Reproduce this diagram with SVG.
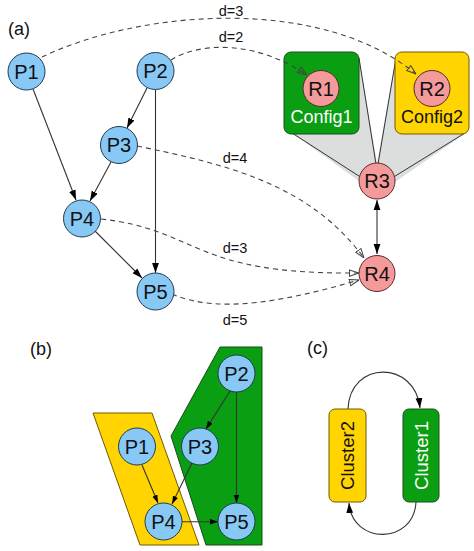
<svg xmlns="http://www.w3.org/2000/svg" width="474" height="551" viewBox="0 0 474 551">
<style>
text{font-family:"Liberation Sans",Arial,sans-serif;fill:#111}
.p{fill:#87c8f5;stroke:#1f3b52;stroke-width:1}
.r{fill:#f49a9a;stroke:#5a2a2a;stroke-width:1}
.nt{font-size:20px;text-anchor:middle}
.lbl{font-size:14.5px;text-anchor:middle}
.pan{font-size:18px}
.e{fill:none;stroke:#333;stroke-width:1.1}
.d{fill:none;stroke:#444;stroke-width:1.1;stroke-dasharray:5,4}
.green{fill:#0a9e12;stroke:#1c4d1c;stroke-width:1}
.yellow{fill:#ffd400;stroke:#6e5b00;stroke-width:1}
.fan{fill:#dcdedd;stroke:none}
.fl{stroke:#333;stroke-width:1}
</style>
<defs>
<marker id="ah" viewBox="0 0 10 10" refX="10" refY="5" markerWidth="10" markerHeight="10" markerUnits="userSpaceOnUse" orient="auto-start-reverse">
<path d="M0,1.6 L10,5 L0,8.4 z" fill="#000"/>
</marker>
<marker id="ahs" viewBox="0 0 10 10" refX="10" refY="5" markerWidth="8" markerHeight="8" markerUnits="userSpaceOnUse" orient="auto">
<path d="M0,1.6 L10,5 L0,8.4 z" fill="#000"/>
</marker>
<marker id="oa" viewBox="0 0 10 10" refX="10" refY="5" markerWidth="10" markerHeight="10" markerUnits="userSpaceOnUse" orient="auto">
<path d="M0.5,1.8 L10,5 L0.5,8.2 z" fill="none" stroke="#444" stroke-width="1"/>
</marker>
</defs>

<text class="pan" x="8" y="35">(a)</text>
<text class="pan" x="30" y="355">(b)</text>
<text class="pan" x="307" y="354">(c)</text>

<g id="fan">
<polygon class="fan" points="292,133 359,57 377,163 359,181"/>
<polygon class="fan" points="396,57 466,133 395,182 377,163"/>
<line class="fl" x1="292" y1="133" x2="362" y2="178"/>
<line class="fl" x1="359" y1="58" x2="376" y2="164"/>
<line class="fl" x1="396" y1="58" x2="378" y2="164"/>
<line class="fl" x1="465" y1="133" x2="392" y2="178"/>
</g>

<g id="config1"><rect class="green" x="284" y="52" width="75" height="82" rx="7"/><text x="321.5" y="123" style="font-size:18px;text-anchor:middle;fill:#fff">Config1</text></g>
<g id="config2"><rect class="yellow" x="395" y="52" width="74" height="82" rx="7"/><text x="432" y="123" style="font-size:18px;text-anchor:middle">Config2</text></g>

<g id="connectors">
<path class="e" d="M33,89 L76,200" marker-end="url(#ah)"/>
<path class="e" d="M147,88 L127,128" marker-end="url(#ah)"/>
<path class="e" d="M111,162 L90,201" marker-end="url(#ah)"/>
<path class="e" d="M155.5,90 L155.5,273" marker-end="url(#ah)"/>
<path class="e" d="M95,231 L142,278" marker-end="url(#ah)"/>
<path class="e" d="M377,200 L377,254" marker-start="url(#ah)" marker-end="url(#ah)"/>
<path class="d" d="M42,57 C140,10 320,-5 416,74" marker-end="url(#oa)"/>
<path class="d" d="M171,60 C200,42 255,40 307,75" marker-end="url(#oa)"/>
<path class="d" d="M137,146 C230,165 310,185 364,258" marker-end="url(#oa)"/>
<path class="d" d="M101,219 C200,230 190,275 359,273" marker-end="url(#oa)"/>
<path class="d" d="M172,294 C220,315 290,300 359,280" marker-end="url(#oa)"/>
<path class="e" d="M348,409 C350,360 415,360 420,408" marker-end="url(#ah)"/>
<path class="e" d="M416,502 C414,545 352,545 349,503" marker-end="url(#ah)"/>
</g>

<text class="lbl" x="231" y="16">d=3</text>
<text class="lbl" x="231" y="42">d=2</text>
<text class="lbl" x="235" y="163">d=4</text>
<text class="lbl" x="235" y="253">d=3</text>
<text class="lbl" x="235" y="325">d=5</text>

<g id="P1"><circle class="p" cx="26.5" cy="71.5" r="18.5"/><text class="nt" x="26.5" y="78.5">P1</text></g>
<g id="P2"><circle class="p" cx="155.5" cy="71" r="18.5"/><text class="nt" x="155.5" y="78">P2</text></g>
<g id="P3"><circle class="p" cx="119" cy="145" r="18.5"/><text class="nt" x="119" y="152">P3</text></g>
<g id="P4"><circle class="p" cx="82" cy="218.5" r="18.5"/><text class="nt" x="82" y="225.5">P4</text></g>
<g id="P5"><circle class="p" cx="155.5" cy="291.5" r="18.5"/><text class="nt" x="155.5" y="298.5">P5</text></g>
<g id="R1"><circle class="r" cx="321" cy="88.5" r="18"/><text class="nt" x="321" y="95.5">R1</text></g>
<g id="R2"><circle class="r" cx="432" cy="88.5" r="18"/><text class="nt" x="432" y="95.5">R2</text></g>
<g id="R3"><circle class="r" cx="377" cy="181" r="18"/><text class="nt" x="377" y="188">R3</text></g>
<g id="R4"><circle class="r" cx="377" cy="273.5" r="18"/><text class="nt" x="377" y="280.5">R4</text></g>

<g id="cluster2b"><polygon class="yellow" points="93,413 152,413 199,545 140,545"/></g>
<g id="cluster1b"><polygon class="green" points="220,347 262,347 262,545 206,545 171,436"/></g>
<g id="connectors-b">
<path class="e" d="M230,391 L206,429" marker-end="url(#ahs)"/>
<path class="e" d="M236.5,392 L236.5,503" marker-end="url(#ahs)"/>
<path class="e" d="M142,465 L158,503" marker-end="url(#ahs)"/>
<path class="e" d="M192,463 L172,504" marker-end="url(#ahs)"/>
<path class="e" d="M182,521.7 L218,521.7" marker-end="url(#ahs)"/>
</g>
<g id="bP1"><circle class="p" cx="137" cy="446.5" r="18.5"/><text class="nt" x="137" y="453.5">P1</text></g>
<g id="bP2"><circle class="p" cx="236.5" cy="373.5" r="18.5"/><text class="nt" x="236.5" y="380.5">P2</text></g>
<g id="bP3"><circle class="p" cx="200" cy="446.5" r="18.5"/><text class="nt" x="200" y="453.5">P3</text></g>
<g id="bP4"><circle class="p" cx="163.5" cy="521.5" r="18.5"/><text class="nt" x="163.5" y="528.5">P4</text></g>
<g id="bP5"><circle class="p" cx="236.5" cy="521.5" r="18.5"/><text class="nt" x="236.5" y="528.5">P5</text></g>

<g id="Cluster2"><rect class="yellow" x="329" y="409" width="37" height="93" rx="6"/><text transform="rotate(-90 347.5 455.5)" x="347.5" y="462" style="font-size:18.5px;text-anchor:middle">Cluster2</text></g>
<g id="Cluster1"><rect class="green" x="403" y="409" width="36" height="93" rx="6"/><text transform="rotate(-90 421 455.5)" x="421" y="462" style="font-size:18.5px;text-anchor:middle;fill:#fff">Cluster1</text></g>
</svg>
